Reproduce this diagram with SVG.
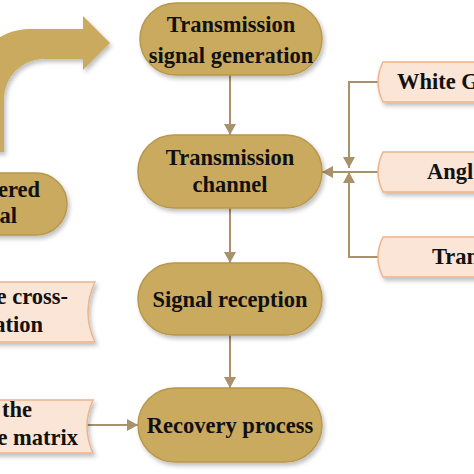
<svg xmlns="http://www.w3.org/2000/svg" width="474" height="474" viewBox="0 0 474 474">
  <defs>
    <filter id="sh" x="-20%" y="-20%" width="140%" height="150%">
      <feDropShadow dx="2" dy="3" stdDeviation="2" flood-color="#000" flood-opacity="0.25"/>
    </filter>
    <marker id="ah" viewBox="0 0 11 12" refX="11" refY="6" markerWidth="11" markerHeight="12" markerUnits="userSpaceOnUse" orient="auto">
      <path d="M0,0 L11,6 L0,12 Z" fill="#A8916B"/>
    </marker>
  </defs>
  <style>
    .pill { fill: #C9AA5E; stroke: #B8974C; stroke-width: 1.5; filter: url(#sh); }
    .box { fill: #FBE5D6; stroke: #EDB48C; stroke-width: 1.5; filter: url(#sh); }
    .t { font-family: "Liberation Serif", "Times New Roman", serif; font-weight: bold; font-size: 22.5px; fill: #111; }
    .c { text-anchor: middle; }
    .e { text-anchor: end; }
    .conn { fill: none; stroke: #A8916B; stroke-width: 2; }
  </style>
  <rect width="474" height="474" fill="#FFFFFF"/>

  <g id="bigArrow">
    <path d="M83,29 L83,16 L110,43 L83,70 L83,59 L44,59 A40,40 0 0 0 4,99 L4,152 L-30,152 L-30,89 A60,60 0 0 1 30,29 Z" fill="#C9AA5E" filter="url(#sh)"/>
  </g>

  <g id="connectors">
    <line class="conn" x1="230" y1="75" x2="230" y2="135" marker-end="url(#ah)"/>
    <line class="conn" x1="230" y1="208" x2="230" y2="263" marker-end="url(#ah)"/>
    <line class="conn" x1="230" y1="335" x2="230" y2="388" marker-end="url(#ah)"/>
    <polyline class="conn" points="378,82 349,82 349,168" marker-end="url(#ah)"/>
    <polyline class="conn" points="378,257 349,257 349,172" marker-end="url(#ah)"/>
    <line class="conn" x1="378" y1="172" x2="322" y2="172" marker-end="url(#ah)"/>
    <line class="conn" x1="87" y1="425" x2="138" y2="425" marker-end="url(#ah)"/>
  </g>

  <g id="node-generation">
    <rect class="pill" x="140" y="3" width="182" height="72" rx="36"/>
    <text class="t c" x="231" y="32">Transmission</text>
    <text class="t c" x="231" y="63">signal generation</text>
  </g>
  <g id="node-channel">
    <rect class="pill" x="138" y="135" width="184" height="73" rx="36"/>
    <text class="t c" x="230" y="165">Transmission</text>
    <text class="t c" x="230" y="192">channel</text>
  </g>
  <g id="node-reception">
    <rect class="pill" x="138" y="263" width="184" height="72" rx="36"/>
    <text class="t c" x="230" y="307">Signal reception</text>
  </g>
  <g id="node-recovery">
    <rect class="pill" x="138" y="388" width="184" height="74" rx="37"/>
    <text class="t c" x="230" y="433">Recovery process</text>
  </g>

  <g id="node-left-signal">
    <rect class="pill" x="-100" y="173" width="167" height="62" rx="31"/>
    <text class="t e" x="40" y="197">ered</text>
    <text class="t e" x="17" y="223">al</text>
  </g>
  <g id="node-left-cross">
    <path class="box" d="M-10,282 L95,282 Q81,312 95,342 L-10,342 Z"/>
    <text class="t e" x="68" y="304">e cross-</text>
    <text class="t e" x="43" y="332">ation</text>
  </g>
  <g id="node-left-matrix">
    <path class="box" d="M-10,400 L93,400 Q81,426.5 93,453 L-10,453 Z"/>
    <text class="t e" x="32" y="417">the</text>
    <text class="t e" x="78" y="445">e matrix</text>
  </g>

  <g id="node-right-white">
    <path class="box" d="M484,62 L383,62 Q373,82 383,102 L484,102 Z"/>
    <text class="t" x="397" y="89">White G</text>
  </g>
  <g id="node-right-angl">
    <path class="box" d="M484,152 L383,152 Q373,172 383,192 L484,192 Z"/>
    <text class="t" x="427" y="179">Angl</text>
  </g>
  <g id="node-right-tran">
    <path class="box" d="M484,237 L383,237 Q373,257 383,277 L484,277 Z"/>
    <text class="t" x="432" y="264">Tran</text>
  </g>
</svg>
